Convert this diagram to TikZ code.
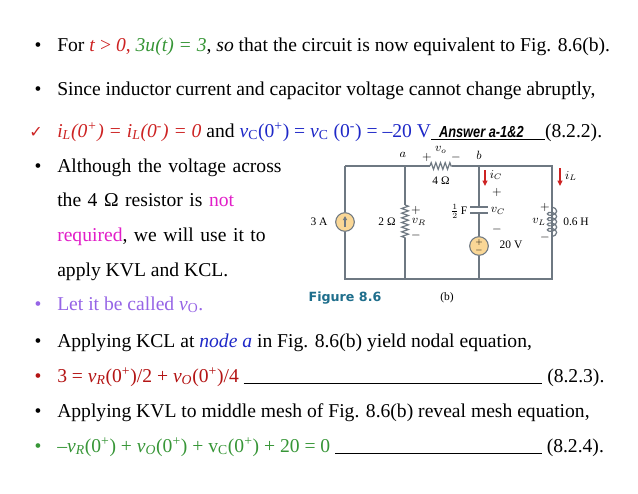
\documentclass[tikz,border=0pt]{standalone}
\usepackage{fontspec}
\setmainfont{Liberation Serif}
\newfontfamily\dejavu{DejaVu Sans}
\newfontfamily\lsans[FakeStretch=0.8]{Liberation Sans}
\usetikzlibrary{arrows.meta,decorations.pathmorphing}
\definecolor{cred}{RGB}{205,35,35}
\definecolor{cdred}{RGB}{180,20,20}
\definecolor{cgreen}{RGB}{55,150,55}
\definecolor{cblue}{RGB}{30,40,200}
\definecolor{cpurp}{RGB}{150,100,230}
\definecolor{cmag}{RGB}{225,30,200}
\definecolor{wire}{RGB}{110,120,130}
\definecolor{srcfill}{RGB}{250,215,150}
\definecolor{teal}{RGB}{30,110,140}
\newcommand{\up}[1]{\textsuperscript{#1}}
\newcommand{\dn}[1]{\textsubscript{#1}}
\begin{document}
\begin{tikzpicture}[x=0.75pt,y=-0.75pt,
  txt/.style={anchor=base west,inner sep=0pt,font=\fontsize{14.7}{17}\selectfont},
  bul/.style={anchor=base,inner sep=0pt,font=\fontsize{14.7}{17}\selectfont},
  w/.style={draw=wire,line width=0.9pt},
  sl/.style={inner sep=0pt,font=\fontsize{8.6}{9}\selectfont},
  src/.style={circle,draw=wire,fill=srcfill,line width=0.8pt,minimum size=14pt,inner sep=0pt},
  cur/.style={draw=cred,line width=1pt,-{Triangle[length=4pt,width=3.5pt]}}]
\useasboundingbox (0,0) rectangle (638,493);
\fill[white] (0,0) rectangle (638,493);
% bullets
\foreach \y/\c in {51/black,95/black,172/black,310/cpurp,347/black,382/cdred,417/black,452/cgreen}
  \node[bul,text=\c] at (38,\y) {\textbullet};
\node[bul,text=cred,font=\dejavu\fontsize{12}{14}\selectfont] (chk) at (36,137) {✓};
\node[txt] (l1) at (57,51) {For \textcolor{cred}{\textit{t} \textgreater{} \textit{0},} \textcolor{cgreen}{\textit{3u(t) = 3}}, \textit{so} that the circuit is now equivalent to Fig. 8.6(b).};
\node[txt] (l2) at (57,95) {Since inductor current and capacitor voltage cannot change abruptly,};
\node[txt] (l3) at (57,137) {\textcolor{cred}{\textit{i\dn{L}(0\up{+}) = i\dn{L}(0\up{-}) = 0}} and \textcolor{cblue}{\textit{v}\dn{C}(0\up{+}) = \textit{v}\dn{C} (0\up{-}) = –20 V}\underline{\hspace*{6pt}{\lsans\bfseries\itshape\fontsize{12}{13}\selectfont Answer a-1\&2}\hspace*{16pt}}(8.2.2).};
\node[txt,text width=174pt] (l4) at (57,172) {\makebox[174pt][s]{Although the voltage across}};
\node[txt,text width=174pt] (l5) at (57,206) {\makebox[174pt][s]{the 4 Ω resistor is \textcolor{cmag}{not}}};
\node[txt,text width=174pt] (l6) at (57,241) {\makebox[174pt][s]{\textcolor{cmag}{required}, we will use it to}};
\node[txt] (l7) at (57,276) {apply KVL and KCL.};
\node[txt,text=cpurp] (l8) at (57,310) {Let it be called \textit{v}\dn{O}.};
\node[txt] (l9) at (57,347) {Applying KCL at \textcolor{cblue}{\textit{node a}} in Fig. 8.6(b) yield nodal equation,};
\node[txt] (l10) at (57,382) {\textcolor{cdred}{3 = \textit{v\dn{R}}(0\up{+})/2 + \textit{v\dn{O}}(0\up{+})/4} \rule[-1pt]{224pt}{0.6pt} (8.2.3).};
\node[txt] (l11) at (57,417) {Applying KVL to middle mesh of Fig. 8.6(b) reveal mesh equation,};
\node[txt] (l12) at (57,452) {\textcolor{cgreen}{–\textit{v\dn{R}}(0\up{+}) + \textit{v\dn{O}}(0\up{+}) + v\dn{C}(0\up{+}) + 20 = 0} \rule[-1pt]{155pt}{0.6pt} (8.2.4).};
% circuit
\coordinate (TL) at (345,166); \coordinate (BL) at (345,279);
\coordinate (A) at (405,166); \coordinate (B) at (479,166);
\coordinate (TR) at (552,166); \coordinate (BR) at (552,279);
\node[src] (I) at (345,222) {};
\draw[wire,line width=0.8pt,-{Triangle[length=3pt,width=3pt]}] (345,227) -- (345,216);
\node[src] (V) at (479,246) {};
\node[inner sep=0pt,font=\fontsize{6}{6}\selectfont] (vp) at (479,242.5) {$+$};
\node[inner sep=0pt,font=\fontsize{6}{6}\selectfont] (vm) at (479,250) {$-$};
\draw[w] (TL) -- (I.north); \draw[w] (I.south) -- (BL) -- (BR) -- (TR) -- (B) -- (452,166);
\draw[w] (430,166) -- (TL);
\draw[w,decorate,decoration={zigzag,segment length=3.5pt,amplitude=2.5pt}] (430,166) -- (452,166);
\draw[w] (A) -- (405,205); \draw[w,decorate,decoration={zigzag,segment length=3.5pt,amplitude=2.5pt}] (405,205) -- (405,238); \draw[w] (405,238) -- (405,279);
\draw[w] (B) -- (479,207); \draw[w] (470,207) -- (488,207); \draw[w] (470,213) -- (488,213);
\draw[w] (479,213) -- (V.north); \draw[w] (V.south) -- (479,279);
\draw[w] (TR) -- (552,207); \draw[w] (552,240) -- (552,279);
\draw[w,decorate,decoration={coil,aspect=0.6,segment length=4pt,amplitude=3.5pt}] (552,207) -- (552,240);
\draw[cur] (485,170) -- (485,186); \draw[cur] (560,168) -- (560,186);
\node[sl] at (319,222) {3 A};
\node[sl] at (387,222) {2 Ω};
\node[sl] at (416,210) {$+$}; \node[sl] at (419,222) {$v_R$}; \node[sl] at (416,235) {$-$};
\node[sl] at (403,155) {$a$}; \node[sl] at (479,155) {$b$};
\node[sl] at (427,157) {$+$}; \node[sl] at (441,150) {$v_o$}; \node[sl] at (456,157) {$-$};
\node[sl] at (441,181) {4 Ω};
\node[sl] at (496,175) {$i_C$}; \node[sl] at (571,176) {$i_L$};
\node[sl] at (459,211) {$\frac12$\,F};
\node[sl] at (497,192) {$+$}; \node[sl] at (498,211) {$v_C$}; \node[sl] at (497,229) {$-$};
\node[sl] at (511,245) {20 V};
\node[sl] at (545,207) {$+$}; \node[sl] at (539,222) {$v_L$}; \node[sl] at (545,237) {$-$};
\node[sl] at (576,222) {0.6 H};
\node[inner sep=0pt,text=teal,font=\dejavu\bfseries\fontsize{9.5}{11}\selectfont] (fig) at (345,298) {Figure 8.6};
\node[sl] at (447,298) {(b)};
\end{tikzpicture}
\end{document}
